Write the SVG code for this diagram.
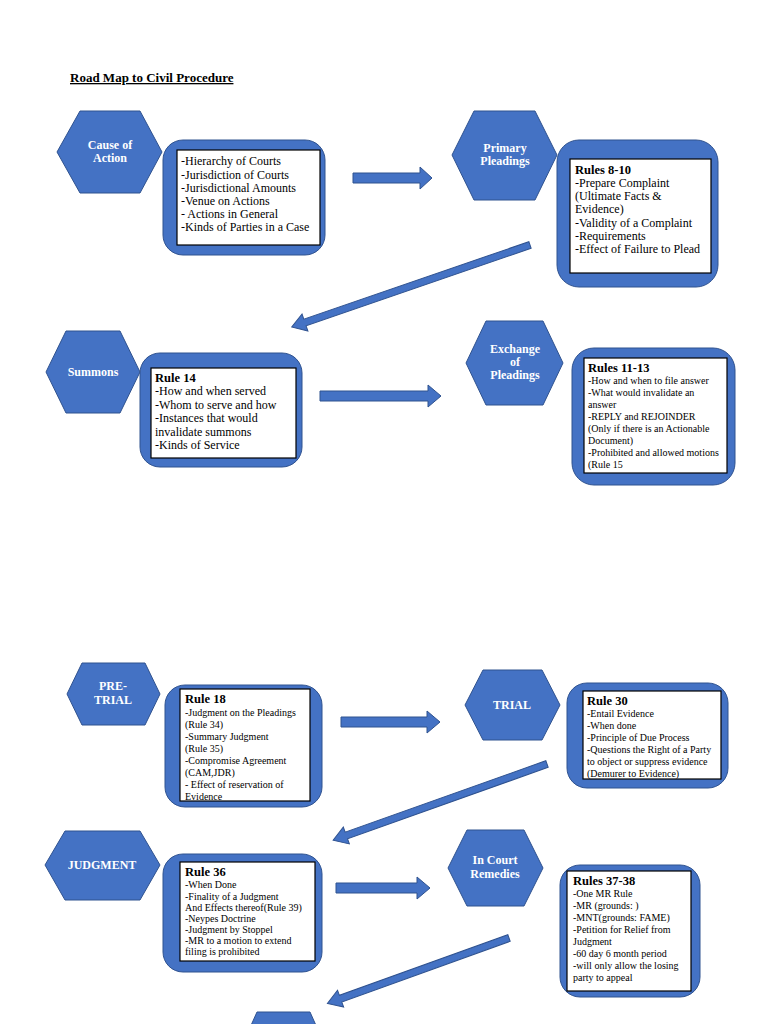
<svg xmlns="http://www.w3.org/2000/svg" width="768" height="1024" viewBox="0 0 768 1024">
<defs>
<style>
.hex{fill:#4472C4;stroke:#2F528F;stroke-width:1}
.hl{fill:#fff;font-family:"Liberation Serif",serif;font-weight:bold;font-size:12px;text-anchor:middle}
.rb{fill:#4472C4;stroke:#2F528F;stroke-width:1}
.ib{fill:#fff;stroke:#000;stroke-width:1.2}
.t{font-family:"Liberation Serif",serif;fill:#000;font-size:12px}
.s{font-family:"Liberation Serif",serif;fill:#000;font-size:10px}
.h{font-weight:bold;font-size:12.5px}
.ar{fill:#4472C4;stroke:#2F528F;stroke-width:1}
</style>
</defs>
<rect width="768" height="1024" fill="#fff"/>
<text x="70" y="82" font-family="Liberation Serif,serif" font-weight="bold" font-size="13" text-decoration="underline">Road Map to Civil Procedure</text>

<g id="connectors">
<polygon class="ar" points="353,173 420,173 420,167 432,178 420,189 420,183 353,183"/>
<polygon class="ar" points="320,391 428,391 428,385 441,396 428,407 428,401 320,401"/>
<polygon class="ar" points="341,717 427,717 427,711 440,722 427,733 427,727 341,727"/>
<polygon class="ar" points="336,883 417,883 417,877 430,888 417,899 417,893 336,893"/>
<g transform="translate(530,245) rotate(161)"><polygon class="ar" points="0,-3.5 238,-3.5 238,-9 252,0 238,9 238,3.5 0,3.5"/></g>
<g transform="translate(547,764) rotate(160.4)"><polygon class="ar" points="0,-3.5 213,-3.5 213,-9 227,0 213,9 213,3.5 0,3.5"/></g>
<g transform="translate(509,938) rotate(160.2)"><polygon class="ar" points="0,-3.5 179,-3.5 179,-9 193,0 179,9 179,3.5 0,3.5"/></g>
</g>

<g id="n-cause"><polygon class="hex" points="57,152 80,111 140,111 162,152 140,193 80,193"/><text class="hl" x="110" y="149">Cause of</text><text class="hl" x="110" y="162">Action</text></g>
<g id="b-cause"><rect class="rb" x="163" y="140" width="162" height="115" rx="20"/><rect class="ib" x="177" y="150" width="143" height="95"/>
<text class="t" x="181" y="165">-Hierarchy of Courts</text><text class="t" x="181" y="179">-Jurisdiction of Courts</text><text class="t" x="181" y="192">-Jurisdictional Amounts</text><text class="t" x="181" y="205">-Venue on Actions</text><text class="t" x="181" y="218">- Actions in General</text><text class="t" x="181" y="231">-Kinds of Parties in a Case</text></g>

<g id="n-primary"><polygon class="hex" points="452,155 474,111 535,111 557,155 535,200 474,200"/><text class="hl" x="505" y="152">Primary</text><text class="hl" x="505" y="165">Pleadings</text></g>
<g id="b-primary"><rect class="rb" x="557" y="140" width="161" height="147" rx="22"/><rect class="ib" x="570" y="159" width="141" height="114"/>
<text class="t h" x="575" y="174">Rules 8-10</text><text class="t" x="575" y="187">-Prepare Complaint</text><text class="t" x="575" y="200">(Ultimate Facts &amp;</text><text class="t" x="575" y="213">Evidence)</text><text class="t" x="575" y="227">-Validity of a Complaint</text><text class="t" x="575" y="240">-Requirements</text><text class="t" x="575" y="253">-Effect of Failure to Plead</text></g>

<g id="n-summons"><polygon class="hex" points="46,372 66,331 120,331 140,372 120,413 66,413"/><text class="hl" x="93" y="376">Summons</text></g>
<g id="b-summons"><rect class="rb" x="140" y="353" width="162" height="114" rx="20"/><rect class="ib" x="151" y="368" width="145" height="90"/>
<text class="t h" x="155" y="382">Rule 14</text><text class="t" x="155" y="395">-How and when served</text><text class="t" x="155" y="409">-Whom to serve and how</text><text class="t" x="155" y="422">-Instances that would</text><text class="t" x="155" y="436">invalidate summons</text><text class="t" x="155" y="449">-Kinds of Service</text></g>

<g id="n-exchange"><polygon class="hex" points="466,363 486,321 543,321 563,363 543,405 486,405"/><text class="hl" x="515" y="353">Exchange</text><text class="hl" x="515" y="366">of</text><text class="hl" x="515" y="379">Pleadings</text></g>
<g id="b-exchange"><rect class="rb" x="572" y="348" width="163" height="137" rx="22"/><rect class="ib" x="584" y="358" width="143" height="115"/>
<text class="t h" x="588" y="372">Rules 11-13</text><text class="s" x="588" y="384">-How and when to file answer</text><text class="s" x="588" y="396">-What would invalidate an</text><text class="s" x="588" y="408">answer</text><text class="s" x="588" y="420">-REPLY and REJOINDER</text><text class="s" x="588" y="432">(Only if there is an Actionable</text><text class="s" x="588" y="444">Document)</text><text class="s" x="588" y="456">-Prohibited and allowed motions</text><text class="s" x="588" y="468">(Rule 15</text></g>

<g id="n-pretrial"><polygon class="hex" points="67,694 82,663 145,663 160,694 145,725 82,725"/><text class="hl" x="113" y="690">PRE-</text><text class="hl" x="113" y="704">TRIAL</text></g>
<g id="b-pretrial"><rect class="rb" x="165" y="685" width="157" height="122" rx="20"/><rect class="ib" x="180" y="689" width="130" height="112"/>
<text class="t h" x="185" y="703">Rule 18</text><text class="s" x="185" y="716">-Judgment on the Pleadings</text><text class="s" x="185" y="728">(Rule 34)</text><text class="s" x="185" y="740">-Summary Judgment</text><text class="s" x="185" y="752">(Rule 35)</text><text class="s" x="185" y="764">-Compromise Agreement</text><text class="s" x="185" y="776">(CAM,JDR)</text><text class="s" x="185" y="788">- Effect of reservation of</text><text class="s" x="185" y="800">Evidence</text></g>

<g id="n-trial"><polygon class="hex" points="465,705 483,670 542,670 560,705 542,740 483,740"/><text class="hl" x="512" y="709">TRIAL</text></g>
<g id="b-trial"><rect class="rb" x="567" y="683" width="161" height="105" rx="20"/><rect class="ib" x="583" y="691" width="138" height="88"/>
<text class="t h" x="587" y="705">Rule 30</text><text class="s" x="587" y="717">-Entail Evidence</text><text class="s" x="587" y="729">-When done</text><text class="s" x="587" y="741">-Principle of Due Process</text><text class="s" x="587" y="753">-Questions the Right of a Party</text><text class="s" x="587" y="765">to object or suppress evidence</text><text class="s" x="587" y="777">(Demurer to Evidence)</text></g>

<g id="n-judgment"><polygon class="hex" points="45,865 65,831 140,831 160,865 140,900 65,900"/><text class="hl" x="102" y="869">JUDGMENT</text></g>
<g id="b-judgment"><rect class="rb" x="163" y="854" width="159" height="118" rx="20"/><rect class="ib" x="180" y="862" width="135" height="99"/>
<text class="t h" x="185" y="876">Rule 36</text><text class="s" x="185" y="888">-When Done</text><text class="s" x="185" y="900">-Finality of a Judgment</text><text class="s" x="185" y="911">And Effects thereof(Rule 39)</text><text class="s" x="185" y="922">-Neypes Doctrine</text><text class="s" x="185" y="933">-Judgment by Stoppel</text><text class="s" x="185" y="944">-MR to a motion to extend</text><text class="s" x="185" y="955">filing is prohibited</text></g>

<g id="n-incourt"><polygon class="hex" points="448,868 467,830 524,830 543,868 524,906 467,906"/><text class="hl" x="495" y="864">In Court</text><text class="hl" x="495" y="878">Remedies</text></g>
<g id="b-incourt"><rect class="rb" x="560" y="865" width="140" height="132" rx="20"/><rect class="ib" x="567" y="871" width="124" height="120"/>
<text class="t h" x="573" y="885">Rules 37-38</text><text class="s" x="573" y="897">-One MR Rule</text><text class="s" x="573" y="909">-MR (grounds: )</text><text class="s" x="573" y="921">-MNT(grounds: FAME)</text><text class="s" x="573" y="933">-Petition for Relief from</text><text class="s" x="573" y="945">Judgment</text><text class="s" x="573" y="957">-60 day 6 month period</text><text class="s" x="573" y="969">-will only allow the losing</text><text class="s" x="573" y="981">party to appeal</text></g>

<g id="n-bottom"><polygon class="hex" points="240,1050 257,1012 310,1012 327,1050 310,1088 257,1088"/></g>
</svg>
